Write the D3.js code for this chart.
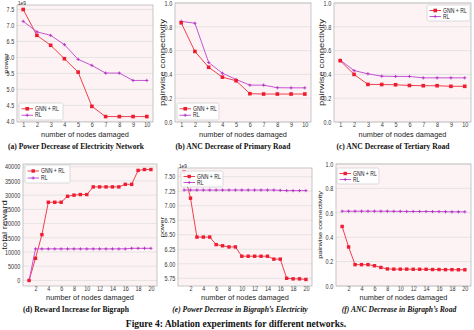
<!DOCTYPE html>
<html>
<head>
<meta charset="utf-8">
<script src="https://cdn.jsdelivr.net/npm/d3@7"></script>
<style>
  body { margin: 0; background: #fff; }
  svg { display: block; font-family: "Liberation Sans", Arial, sans-serif; }
</style>
</head>
<body>
<svg id="canvas" width="474" height="330"></svg>
<script>
// ---- data ----
let nodes10 = [1, 2, 3, 4, 5, 6, 7, 8, 9, 10]
let nodes20 = [1, 2, 3, 4, 5, 6, 7, 8, 9, 10, 11, 12, 13, 14, 15, 16, 17, 18, 19, 20]
let evenNodes = [2, 4, 6, 8, 10, 12, 14, 16, 18, 20]

let powerGnn = [7.5, 6.69, 6.38, 5.96, 5.54, 4.47, 4.15, 4.15, 4.15, 4.15]
let powerRl = [7.13, 6.8, 6.69, 6.4, 5.94, 5.75, 5.51, 5.51, 5.28, 5.28]
let powerTicks = [4.0, 4.5, 5.0, 5.5, 6.0, 6.5, 7.0, 7.5]

let primaryGnn = [0.834, 0.593, 0.46, 0.377, 0.347, 0.238, 0.235, 0.235, 0.235, 0.235]
let primaryRl = [0.846, 0.83, 0.5, 0.41, 0.357, 0.31, 0.31, 0.288, 0.287, 0.287]

let tertiaryGnn = [0.515, 0.4, 0.316, 0.315, 0.313, 0.307, 0.305, 0.305, 0.3, 0.3]
let tertiaryRl = [0.52, 0.432, 0.405, 0.385, 0.383, 0.383, 0.371, 0.371, 0.371, 0.371]

let connTicks = [0.0, 0.2, 0.4, 0.6, 0.8, 1.0]

let rewardGnn = [0, 7800, 16100, 27500, 27500, 27500, 29600, 30000, 30200, 30200,
  32900, 32900, 32900, 32900, 32900, 33800, 33800, 38700, 39000, 39000]
let rewardRl = [0, 11100, 11100, 11100, 11100, 11100, 11100, 11100, 11100, 11100,
  11100, 11100, 11100, 11100, 11100, 11100, 11300, 11300, 11300, 11300]
let rewardTicks = [0, 5000, 10000, 15000, 20000, 25000, 30000, 35000, 40000]

let bigPowerGnn = [7.58, 7.13, 6.46, 6.46, 6.46, 6.33, 6.31, 6.29, 6.29, 6.13,
  6.13, 6.13, 6.13, 6.13, 6.08, 6.08, 5.75, 5.74, 5.74, 5.73]
let bigPowerRl = [7.27, 7.27, 7.27, 7.27, 7.27, 7.27, 7.27, 7.27, 7.27, 7.27,
  7.27, 7.27, 7.27, 7.27, 7.27, 7.265, 7.26, 7.26, 7.26, 7.26]
let bigPowerTicks = [5.75, 6.0, 6.25, 6.5, 6.75, 7.0, 7.25, 7.5]

let bigRoadGnn = [0.488, 0.32, 0.175, 0.175, 0.175, 0.166, 0.152, 0.14, 0.138, 0.138,
  0.138, 0.137, 0.137, 0.137, 0.135, 0.135, 0.134, 0.134, 0.133, 0.133]
let bigRoadRl = [0.613, 0.613, 0.613, 0.613, 0.613, 0.613, 0.613, 0.613, 0.612, 0.612,
  0.611, 0.611, 0.611, 0.611, 0.61, 0.61, 0.609, 0.608, 0.608, 0.608]

let seriesNames = ['GNN + RL', 'RL']
let captions = [
  '(a) Power Decrease of Electricity Network',
  '(b) ANC Decrease of Primary Road',
  '(c) ANC Decrease of Tertiary Road',
  '(d) Reward Increase for Bigraph',
  '(e) Power Decrease in Bigraph\u2019s Electricity',
  '(f) ANC Decrease in Bigraph\u2019s Road'
]
let figTitle = 'Figure 4: Ablation experiments for different networks.'

// ---- look ----
let SQ = 0.78            // the panels are squeezed sideways in the paper
let red = '#ee1c30', redLine = '#f0404e'
let purple = '#b52fc4', purpleLine = '#c455d4'

let canvas = d3.select('#canvas')

let panels = [
  { id: 'a', x: nodes10, gnn: powerGnn, rl: powerRl, box: [17, 153, 5, 122], xdom: [0.55, 10.45],
    ydom: [3.98, 7.64], xt: nodes10, yt: powerTicks, fmt: '.1f', ylab: 'power', ylabSize: 7.5, ylabX: 8,
    offset: '1e9', leg: [19, 103, 44, 17], cap: [76, 148.5], ms: 3.6 },
  { id: 'b', x: nodes10, gnn: primaryGnn, rl: primaryRl, box: [175, 311, 3, 122], xdom: [0.55, 10.45],
    ydom: [0, 1], xt: nodes10, yt: connTicks, fmt: '.1f', ylab: 'pairwise connectivity', ylabSize: 9.5, ylabX: 165,
    leg: [177, 103, 42, 17], cap: [233, 148.5], ms: 3.6 },
  { id: 'c', x: nodes10, gnn: tertiaryGnn, rl: tertiaryRl, box: [334, 471, 3, 122], xdom: [0.55, 10.45],
    ydom: [0, 1], xt: nodes10, yt: connTicks, fmt: '.1f', ylab: 'pairwise connectivity', ylabSize: 9.5, ylabX: 324,
    leg: [427, 5, 43, 16], cap: [393, 148.5], ms: 3.6 },
  { id: 'd', x: nodes20, gnn: rewardGnn, rl: rewardRl, box: [23, 157, 164, 286], xdom: [0.05, 20.95],
    ydom: [-1950, 40950], xt: evenNodes, yt: rewardTicks, fmt: 'd', ylab: 'total reward', ylabSize: 9.5, ylabX: 7,
    leg: [25, 165, 45, 18], cap: [76, 312], ms: 3.4 },
  { id: 'e', x: nodes20, gnn: bigPowerGnn, rl: bigPowerRl, box: [178, 312, 168, 286], xdom: [0.05, 20.95],
    ydom: [5.617, 7.65], xt: evenNodes, yt: bigPowerTicks, fmt: '.2f', ylab: 'power', ylabSize: 7.5, ylabX: 164,
    offset: '1e9', leg: [181, 171, 42, 16], cap: [240, 312], ms: 3.4, italic: true },
  { id: 'f', x: nodes20, gnn: bigRoadGnn, rl: bigRoadRl, box: [336, 471, 164, 286], xdom: [0.05, 20.95],
    ydom: [0, 1], xt: evenNodes, yt: connTicks, fmt: '.1f', ylab: 'pairwise connectivity', ylabSize: 7.4, ylabX: 322,
    leg: [337, 168, 42, 16], cap: [399, 312], ms: 3.4, italic: true }
]

let squeezed = (g, x, y, str, size, anchor, sq) => {
  return g.append('text')
    .attr('transform', `translate(${x},${y}) scale(${sq || SQ},1)`)
    .attr('text-anchor', anchor)
    .style('font-size', size + 'px')
    .attr('fill', '#222')
    .text(str)
}

let redMark = (g, x, y, s) => {
  g.append('rect').attr('x', x - s / 2).attr('y', y - s / 2).attr('width', s).attr('height', s).attr('fill', red)
}
let rlMark = (g, x, y) => {
  g.append('path').attr('d', `M${x - 1.6},${y}H${x + 1.6}M${x},${y - 1.6}V${y + 1.6}`)
    .attr('stroke', purple).attr('stroke-width', 0.9)
}

let drawPanel = (p) => {
  let [l, r, t, b] = p.box
  let xScale = d3.scaleLinear().domain(p.xdom).range([l, r])
  let yScale = d3.scaleLinear().domain(p.ydom).range([b, t])
  let g = canvas.append('g').attr('class', 'panel-' + p.id)

  g.append('clipPath').attr('id', 'clip-' + p.id)
    .append('rect').attr('x', l).attr('y', t).attr('width', r - l).attr('height', b - t)

  g.append('rect').attr('x', l).attr('y', t).attr('width', r - l).attr('height', b - t)
    .attr('fill', '#fdf3f4')

  // horizontal grid
  g.append('g').selectAll('line').data(p.yt).enter().append('line')
    .attr('x1', l).attr('x2', r)
    .attr('y1', d => yScale(d)).attr('y2', d => yScale(d))
    .attr('stroke', '#dcdcdc').attr('stroke-width', 0.7)

  // axes
  let xAxis = g.append('g').attr('transform', `translate(0,${b})`)
    .call(d3.axisBottom(xScale).tickValues(p.xt).tickSize(0).tickFormat(d3.format('d')))
  let yAxis = g.append('g').attr('transform', `translate(${l},0)`)
    .call(d3.axisLeft(yScale).tickValues(p.yt).tickSize(0).tickFormat(d3.format(p.fmt)))
  xAxis.select('.domain').remove()
  yAxis.select('.domain').remove()
  xAxis.selectAll('text').attr('dy', null).attr('y', 5.2)
    .attr('transform', `scale(${SQ},1)`).style('font-size', '7px').attr('fill', '#333')
    .style('font-family', '"Liberation Sans", Arial, sans-serif')
  yAxis.selectAll('text').attr('x', -2.8 / SQ)
    .attr('transform', `scale(${SQ},1)`).style('font-size', '7px').attr('fill', '#333')
    .style('font-family', '"Liberation Sans", Arial, sans-serif')

  // series
  let lineOf = (vals) => d3.line().x((d, i) => xScale(p.x[i])).y(d => yScale(d))(vals)
  let plot = g.append('g').attr('clip-path', `url(#clip-${p.id})`)
  plot.append('path').attr('d', lineOf(p.gnn)).attr('fill', 'none').attr('stroke', redLine).attr('stroke-width', 1)
  plot.append('path').attr('d', lineOf(p.rl)).attr('fill', 'none').attr('stroke', purpleLine).attr('stroke-width', 1)
  p.rl.forEach((v, i) => rlMark(plot, xScale(p.x[i]), yScale(v)))
  p.gnn.forEach((v, i) => redMark(plot, xScale(p.x[i]), yScale(v), p.ms))

  // frame
  g.append('rect').attr('x', l).attr('y', t).attr('width', r - l).attr('height', b - t)
    .attr('fill', 'none').attr('stroke', '#b8b8b8').attr('stroke-width', 0.8)

  // legend
  let [lx, ly, lw, lh] = p.leg
  let lg = g.append('g')
  lg.append('rect').attr('x', lx).attr('y', ly).attr('width', lw).attr('height', lh)
    .attr('rx', 1.5).attr('fill', '#fff').attr('fill-opacity', 0.9)
    .attr('stroke', '#c8c8c8').attr('stroke-width', 0.6)
  let rowH = (lh - 4) / 2
  seriesNames.forEach((name, i) => {
    let cy = ly + 2.5 + rowH * (i + 0.5)
    lg.append('line').attr('x1', lx + 2.5).attr('x2', lx + 14).attr('y1', cy).attr('y2', cy)
      .attr('stroke', i === 0 ? redLine : purpleLine).attr('stroke-width', 1)
    if (i === 0) redMark(lg, lx + 8.2, cy, p.ms)
    else rlMark(lg, lx + 8.2, cy)
    squeezed(lg, lx + 16, cy + 2.2, name, 6.6, 'start')
  })

  // labels
  squeezed(g, (l + r) / 2, b + (p.id < 'd' ? 14.5 : 13.5), 'number of nodes damaged', 8, 'middle', 0.92)
  g.append('text')
    .attr('transform', `translate(${p.ylabX},${(t + b) / 2}) scale(${SQ},1) rotate(-90)`)
    .attr('text-anchor', 'middle').style('font-size', p.ylabSize + 'px')
    .attr('fill', '#222').text(p.ylab)
  if (p.offset) squeezed(g, l + 1, t - 0.5, p.offset, 6, 'start')

  g.append('text').attr('x', p.cap[0]).attr('y', p.cap[1]).attr('text-anchor', 'middle')
    .style('font-family', '"Liberation Serif", "Times New Roman", serif')
    .style('font-weight', 'bold').style('font-style', p.italic ? 'italic' : 'normal')
    .style('font-size', '7.6px').attr('fill', '#111').text(captions['abcdef'.indexOf(p.id)])
}

panels.forEach(drawPanel)

canvas.append('text').attr('x', 236).attr('y', 326.5).attr('text-anchor', 'middle')
  .style('font-family', '"Liberation Serif", "Times New Roman", serif')
  .style('font-weight', 'bold').style('font-size', '9.5px').attr('fill', '#111')
  .text(figTitle)
</script>
</body>
</html>
